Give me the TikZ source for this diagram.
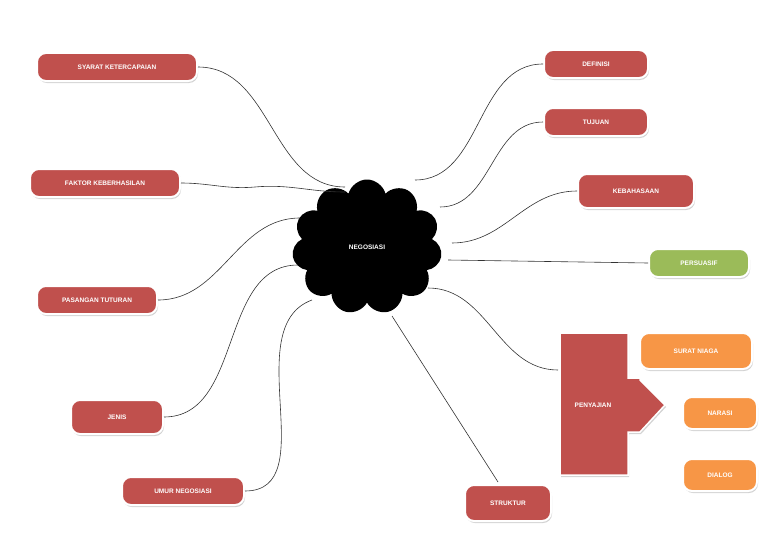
\documentclass[tikz,border=0pt]{standalone}
\usepackage{fontspec}
\setmainfont{Liberation Sans}
\usetikzlibrary{shapes.symbols,shadows}
\definecolor{rd}{HTML}{C0504D}
\definecolor{gr}{HTML}{9BBB59}
\definecolor{og}{HTML}{F79646}
\begin{document}
\begin{tikzpicture}[x=1pt,y=-1pt,
  box/.style={rounded corners=9pt,draw=white,line width=2pt,fill=rd,text=white,
    font=\bfseries\fontsize{6.5}{7}\selectfont,minimum height=28pt,
    drop shadow={opacity=0.35,shadow xshift=1pt,shadow yshift=-2pt}},
  ln/.style={draw=black!80,line width=0.6pt}]
\useasboundingbox (0,0) rectangle (768,543);
\node[cloud,cloud puffs=11,fill=black,minimum width=150pt,minimum height=135pt,text=white,font=\bfseries\fontsize{6.5}{7}\selectfont] (c) at (367,247) {NEGOSIASI};
\node[box,minimum width=160pt] (syarat) at (117,67) {SYARAT KETERCAPAIAN};
\node[box,minimum width=150pt] (faktor) at (105,183) {FAKTOR KEBERHASILAN};
\node[box,minimum width=120pt] (pasangan) at (97,300) {PASANGAN TUTURAN};
\node[box,minimum width=92pt,minimum height=34pt] (jenis) at (117,417) {JENIS};
\node[box,minimum width=122pt] (umur) at (183,491) {UMUR NEGOSIASI};
\node[box,minimum width=104pt] (def) at (596,64) {DEFINISI};
\node[box,minimum width=104pt] (tuj) at (596,122) {TUJUAN};
\node[box,minimum width=116pt,minimum height=34pt] (keb) at (636,191) {KEBAHASAAN};
\node[box,fill=gr,minimum width=100pt] (pers) at (699,263) {PERSUASIF};
\node[box,fill=og,minimum width=112pt,minimum height=36pt] (surat) at (696,351) {SURAT NIAGA};
\node[box,fill=og,minimum width=74pt,minimum height=32pt] (narasi) at (720,413) {NARASI};
\node[box,fill=og,minimum width=74pt,minimum height=32pt] (dialog) at (720,475) {DIALOG};
\node[box,minimum width=86pt,minimum height=36pt] (struk) at (508,503) {STRUKTUR};
% penyajian arrow shape
\fill[rd,draw=white,line width=1.5pt,drop shadow={opacity=0.35,shadow xshift=1pt,shadow yshift=-2pt}]
 (560,333) -- (628,333) -- (628,378) -- (640,378) -- (640,380) -- (665,405) -- (640,432) -- (628,432) -- (628,475) -- (560,475) -- cycle;
\node[text=white,font=\bfseries\fontsize{6.5}{7}\selectfont] (peny) at (593,405) {PENYAJIAN};
\coordinate (pl) at (558,370);
\coordinate (c1) at (345,187);
\coordinate (c2) at (345,192);
\coordinate (c3) at (300,218);
\coordinate (c4) at (298,265);
\coordinate (c5) at (312,300);
\coordinate (c6) at (415,180);
\coordinate (c7) at (440,207);
\coordinate (c8) at (452,243);
\coordinate (c9) at (448,260);
\coordinate (c10) at (428,288);
\coordinate (c11) at (392,316);
\draw[ln] (syarat.east) to[out=0,in=180] (c1);
\draw[ln] (faktor.east) to[out=0,in=185] (255,187) to[out=5,in=180] (c2);
\draw[ln] (pasangan.east) to[out=0,in=180] (c3);
\draw[ln] (jenis.east) to[out=0,in=180] (c4);
\draw[ln] (umur.east) to[out=0,in=200] (c5);
\draw[ln] (def.west) to[out=180,in=0] (c6);
\draw[ln] (tuj.west) to[out=180,in=0] (c7);
\draw[ln] (keb.west) to[out=180,in=0] (c8);
\draw[ln] (pers.west) -- (c9);
\draw[ln] (c10) to[out=0,in=180] (pl);
\draw[ln] (struk.north) ++(-10,-2) -- (c11);
\end{tikzpicture}
\end{document}
